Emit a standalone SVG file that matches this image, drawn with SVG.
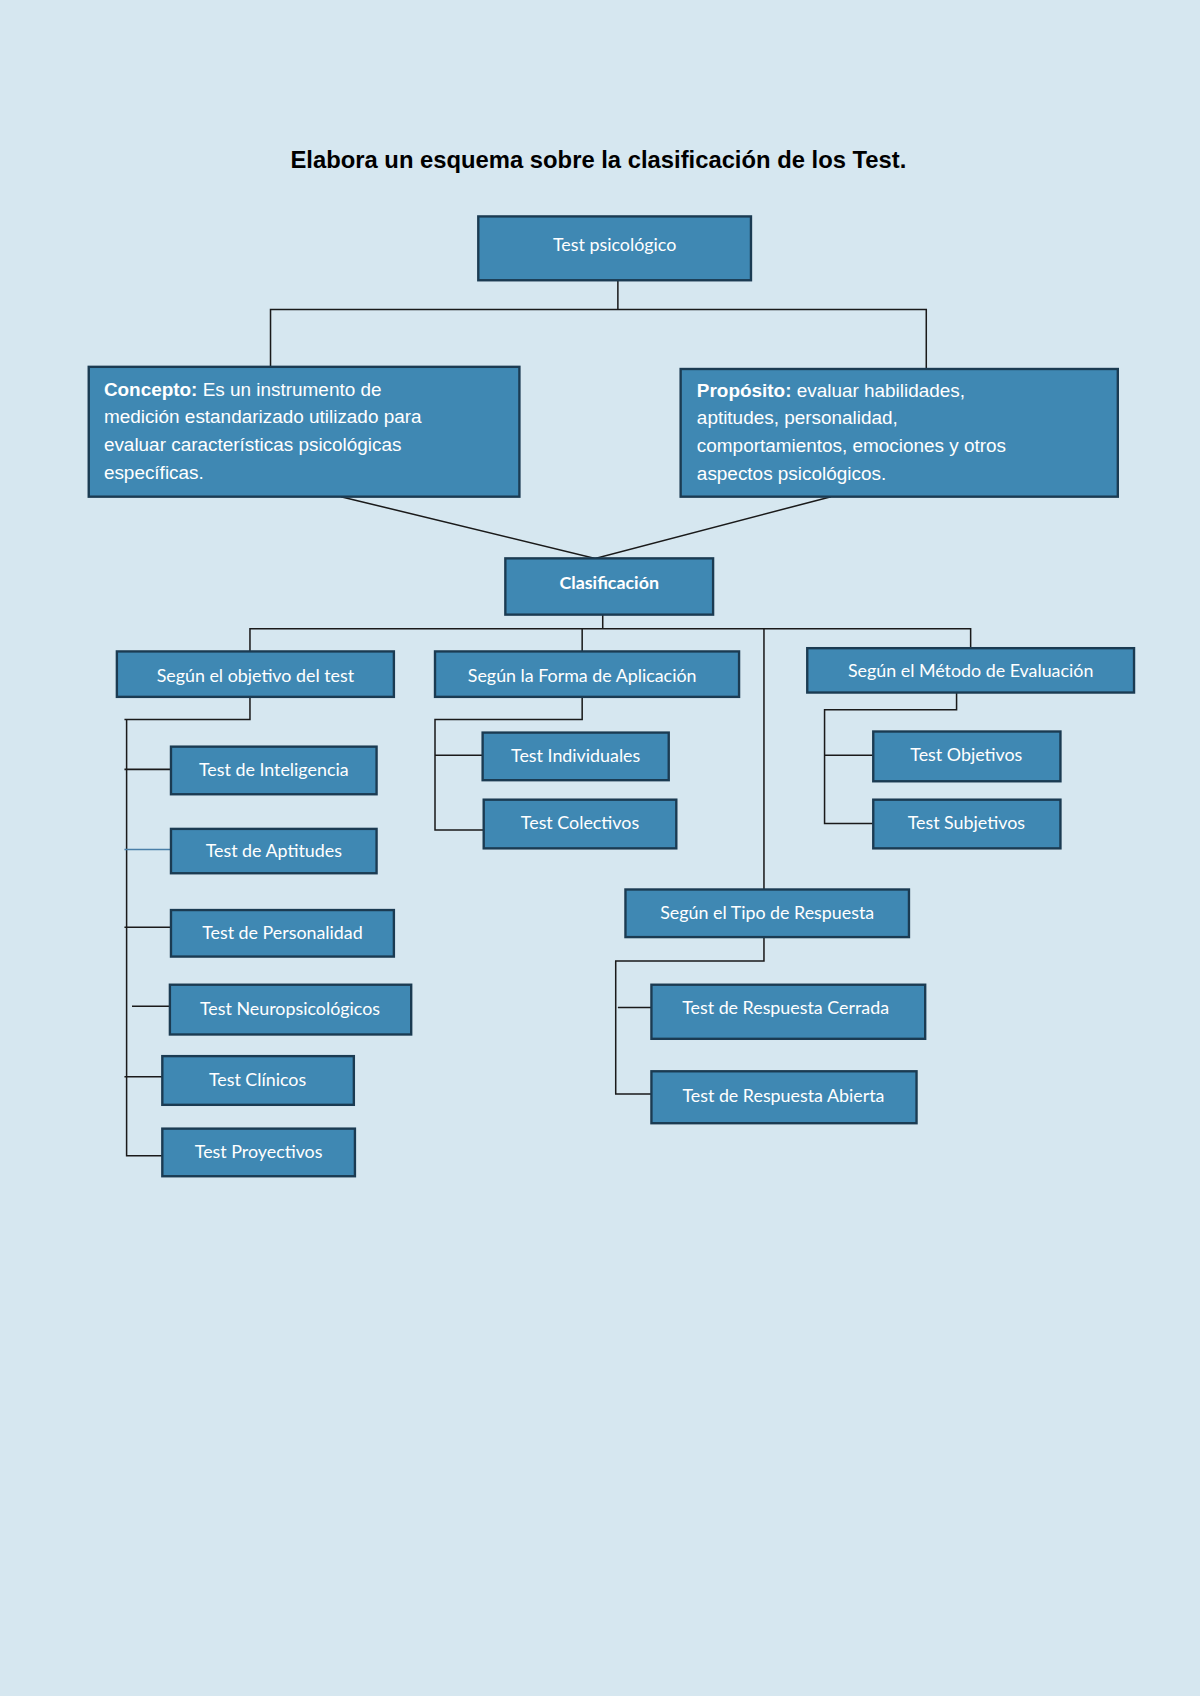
<svg xmlns="http://www.w3.org/2000/svg" width="1200" height="1696" viewBox="0 0 1200 1696">
<style>
.b{fill:#3f88b3;stroke:#1b3b52;stroke-width:2.2}
.t{fill:#fff;font-family:Lato,"Open Sans",sans-serif;font-size:16.5px;text-anchor:middle}
.p{fill:#fff;font-family:"Liberation Sans",Arial,sans-serif;font-size:17.5px}
.c{fill:none;stroke:#1a1a1a;stroke-width:1.4}
</style>
<rect width="1200" height="1696" fill="#d6e7f0"/>
<g transform="scale(1.0821)">
<text x="553" y="155" font-family="Liberation Sans,Arial,sans-serif" font-size="22" font-weight="bold" text-anchor="middle" fill="#000">Elabora un esquema sobre la clasificación de los Test.</text>
<g id="connectors" class="c">
<path d="M571 259V286M250 340V286H856V341"/>
<path d="M315 459L550 516L768 459"/>
<path d="M557 568V581M231 602V581H897V599M538 581V602M706 581V822"/>
<path d="M231 644V665H115M117 665V1068H150M115 711H158M122 930H157M115 857H158M115 995H150"/>
<path d="M115 785H158" stroke="#4a7fa8"/>
<path d="M538 644V665H402V767H447M402 698H446"/>
<path d="M884 640V656H762V761H807M762 698H807"/>
<path d="M706 866V888H569V1011H602M571 931H602"/>
</g>
<g id="root"><rect class="b" x="442" y="200" width="252" height="59"/><text class="t" x="568" y="232" font-size="24" font-family="Liberation Sans,Arial,sans-serif">Test psicológico</text></g>
<g id="concepto"><rect class="b" x="82" y="339" width="398" height="120"/>
<text class="p" x="96" y="366"><tspan font-weight="bold">Concepto:</tspan> Es un instrumento de</text>
<text class="p" x="96" y="391">medición estandarizado utilizado para</text>
<text class="p" x="96" y="417">evaluar características psicológicas</text>
<text class="p" x="96" y="443">específicas.</text></g>
<g id="proposito"><rect class="b" x="629" y="341" width="404" height="118"/>
<text class="p" x="644" y="367"><tspan font-weight="bold">Propósito:</tspan> evaluar habilidades,</text>
<text class="p" x="644" y="392">aptitudes, personalidad,</text>
<text class="p" x="644" y="418">comportamientos, emociones y otros</text>
<text class="p" x="644" y="444">aspectos psicológicos.</text></g>
<g id="clasificacion"><rect class="b" x="467" y="516" width="192" height="52"/><text class="t" x="563" y="544" font-size="18" font-weight="bold">Clasificación</text></g>
<g id="objetivo"><rect class="b" x="108" y="602" width="256" height="42"/><text class="t" x="236" y="630">Según el objetivo del test</text></g>
<g id="forma"><rect class="b" x="402" y="602" width="281" height="42"/><text class="t" x="538" y="630">Según la Forma de Aplicación</text></g>
<g id="metodo"><rect class="b" x="746" y="599" width="302" height="41"/><text class="t" x="897" y="626">Según el Método de Evaluación</text></g>
<g id="tipo"><rect class="b" x="578" y="822" width="262" height="44"/><text class="t" x="709" y="849">Según el Tipo de Respuesta</text></g>
<g id="inteligencia"><rect class="b" x="158" y="690" width="190" height="44"/><text class="t" x="253" y="717">Test de Inteligencia</text></g>
<g id="aptitudes"><rect class="b" x="158" y="766" width="190" height="41"/><text class="t" x="253" y="792">Test de Aptitudes</text></g>
<g id="personalidad"><rect class="b" x="158" y="841" width="206" height="43"/><text class="t" x="261" y="868">Test de Personalidad</text></g>
<g id="neuro"><rect class="b" x="157" y="910" width="223" height="46"/><text class="t" x="268" y="938">Test Neuropsicológicos</text></g>
<g id="clinicos"><rect class="b" x="150" y="976" width="177" height="45"/><text class="t" x="238" y="1004">Test Clínicos</text></g>
<g id="proyectivos"><rect class="b" x="150" y="1043" width="178" height="44"/><text class="t" x="239" y="1070">Test Proyectivos</text></g>
<g id="individuales"><rect class="b" x="446" y="677" width="172" height="44"/><text class="t" x="532" y="704">Test Individuales</text></g>
<g id="colectivos"><rect class="b" x="447" y="739" width="178" height="45"/><text class="t" x="536" y="766">Test Colectivos</text></g>
<g id="objetivos"><rect class="b" x="807" y="676" width="173" height="46"/><text class="t" x="893" y="703">Test Objetivos</text></g>
<g id="subjetivos"><rect class="b" x="807" y="739" width="173" height="45"/><text class="t" x="893" y="766">Test Subjetivos</text></g>
<g id="cerrada"><rect class="b" x="602" y="910" width="253" height="50"/><text class="t" x="726" y="937">Test de Respuesta Cerrada</text></g>
<g id="abierta"><rect class="b" x="602" y="990" width="245" height="48"/><text class="t" x="724" y="1018">Test de Respuesta Abierta</text></g>
</g>
</svg>
